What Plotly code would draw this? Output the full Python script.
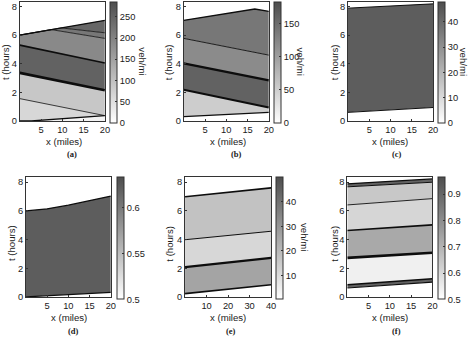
import plotly.graph_objects as go

# ---------------- data ----------------
T_MAX = 8.333

# panel (a)
a_xmax = 20
a_line_x = [[0, 20], [0, 9.7, 20], [0, 7.4, 20], [0, 20], [0, 20], [0, 20], [0, 2.7, 20]]
a_line_t = [[6.0, 7.03], [6.0, 6.5, 6.16], [6.0, 6.38, 5.77], [5.3, 4.05], [3.36, 2.14], [1.56, 0.37], [0, 0, 0.37]]
a_vals = [0, 245, 220, 190, 253, 90, 65, 20]
a_crange = [0, 286]
a_cticks = [0, 50, 100, 150, 200, 250]

# panel (b)
b_xmax = 20
b_line_x = [[0, 16.7, 20], [0, 20], [0, 20], [0, 20], [0, 20]]
b_line_t = [[7.03, 7.82, 7.66], [5.77, 4.6], [4.02, 2.83], [2.18, 0.94], [0.3, 0.6]]
b_vals = [0, 141, 120, 162, 52, 0]
b_crange = [0, 183]
b_cticks = [0, 50, 100, 150]

# panel (c)
c_xmax = 20
c_line_x = [[0, 20], [0, 20]]
c_line_t = [[7.88, 8.18], [0.6, 0.94]]
c_vals = [0, 44, 0]
c_crange = [0, 48]
c_cticks = [0, 10, 20, 30, 40]

# panel (d)
d_xmax = 20
d_line_x = [[0, 5, 10, 15, 20], [0, 20]]
d_line_t = [[6.0, 6.15, 6.4, 6.7, 7.04], [0.03, 0.33]]
d_vals = [0.5, 0.622, 0.5]
d_crange = [0.5, 0.633]
d_cticks = [0.5, 0.55, 0.6]

# panel (e)
e_xmax = 40
e_line_x = [[0, 40], [0, 40], [0, 40], [0, 40]]
e_line_t = [[6.99, 7.61], [4.0, 4.59], [2.1, 2.74], [0.25, 0.87]]
e_vals = [0.25, 17.3, 11.6, 25.7, 0.25]
e_crange = [0.25, 49.9]
e_cticks = [10, 20, 30, 40]

# panel (f)
f_xmax = 20
f_line_x = [[0, 20]] * 7
f_line_t = [[7.89, 8.23], [7.68, 8.0], [6.42, 6.86], [4.64, 5.03], [2.74, 3.09], [0.87, 1.28], [0.64, 1.05]]
f_vals = [0.5, 0.91, 0.645, 0.606, 0.725, 0.54, 0.91, 0.5]
f_crange = [0.5, 0.963]
f_cticks = [0.5, 0.6, 0.7, 0.8, 0.9]

# ---------------- styles / layout (pixels) ----------------
W, H = 474, 352
a_widths = [1.3, 0.8, 0.8, 1.6, 2.6, 0.8, 1.3]
b_widths = [1.3, 0.9, 2.2, 2.2, 1.3]
c_widths = [1.0, 1.0]
d_widths = [1.3, 1.3]
e_widths = [1.6, 1.0, 2.2, 1.6]
f_widths = [1.3, 1.0, 0.9, 1.6, 2.6, 1.6, 1.2]

panels = [
    dict(name="a", xmax=a_xmax, lx=a_line_x, lt=a_line_t, vals=a_vals, cr=a_crange, ct=a_cticks, lw=a_widths,
         xticks=[5, 10, 15, 20], box=(20, 106, 1.7, 122.7), cb=(111, 119), cbl="veh/mi", cblx=144.5,
         xt=(65, 144), yt=(5, 63), lab=(73, 156)),
    dict(name="b", xmax=b_xmax, lx=b_line_x, lt=b_line_t, vals=b_vals, cr=b_crange, ct=b_cticks, lw=b_widths,
         xticks=[5, 10, 15, 20], box=(185.7, 271.7, 1.7, 122.7), cb=(276.5, 284.3), cbl="veh/mi", cblx=304,
         xt=(230.5, 144), yt=(170, 63), lab=(239.5, 156)),
    dict(name="c", xmax=c_xmax, lx=c_line_x, lt=c_line_t, vals=c_vals, cr=c_crange, ct=c_cticks, lw=c_widths,
         xticks=[5, 10, 15, 20], box=(351.7, 437.7, 1.7, 122.7), cb=(442.5, 450.3), cbl="veh/mi", cblx=468.5,
         xt=(394, 144), yt=(337.7, 63), lab=(401, 156)),
    dict(name="d", xmax=d_xmax, lx=d_line_x, lt=d_line_t, vals=d_vals, cr=d_crange, ct=d_cticks, lw=d_widths,
         xticks=[5, 10, 15, 20], box=(26.2, 112, 180, 301.5), cb=(118.3, 126), cbl=None, cblx=None,
         xt=(69.5, 321.7), yt=(11.7, 247), lab=(74, 335.3)),
    dict(name="e", xmax=e_xmax, lx=e_line_x, lt=e_line_t, vals=e_vals, cr=e_crange, ct=e_cticks, lw=e_widths,
         xticks=[10, 20, 30, 40], box=(187, 274, 180, 301.5), cb=(279.3, 287), cbl="veh/mi", cblx=307.5,
         xt=(230.5, 321.7), yt=(171, 247), lab=(233, 335.3)),
    dict(name="f", xmax=f_xmax, lx=f_line_x, lt=f_line_t, vals=f_vals, cr=f_crange, ct=f_cticks, lw=f_widths,
         xticks=[5, 10, 15, 20], box=(351, 437, 180, 301.5), cb=(443, 450.7), cbl=None, cblx=None,
         xt=(394.3, 321.7), yt=(337.7, 247), lab=(401, 335.3)),
]

DARK = 78
colorscale = [[0, "rgb(255,255,255)"], [1, f"rgb({DARK},{DARK},{DARK})"]]
FONT = "Liberation Sans, Arial, sans-serif"
TXT = "#1a1a1a"
TICK = 9.3
TITLE = 9.6


def gray(v, lo, hi):
    f = (v - lo) / (hi - lo)
    f = max(0.0, min(1.0, f))
    g = round(255 - (255 - DARK) * f)
    return f"rgb({g},{g},{g})"


def fmt(v):
    return f"{v:g}"


fig = go.Figure()
layout = dict(width=W, height=H, margin=dict(l=0, r=0, t=0, b=0), showlegend=False,
              paper_bgcolor="white", plot_bgcolor="white", annotations=[],
              font=dict(family=FONT, size=TICK, color=TXT))

for i, p in enumerate(panels):
    k = "" if i == 0 else str(i + 1)
    xa, ya = "x" + k, "y" + k
    xmax = p["xmax"]
    lo, hi = p["cr"]
    bounds = [([0, xmax], [T_MAX, T_MAX])] + list(zip(p["lx"], p["lt"])) + [([0, xmax], [0, 0])]
    for j, v in enumerate(p["vals"]):
        ux, ut = bounds[j]
        bx, bt = bounds[j + 1]
        px = list(ux) + list(bx)[::-1]
        pt = list(ut) + list(bt)[::-1]
        fig.add_trace(go.Scatter(x=px, y=pt, xaxis=xa, yaxis=ya, mode="lines", fill="toself",
                                 fillcolor=gray(v, lo, hi), line=dict(width=0, color=gray(v, lo, hi)),
                                 hoverinfo="skip"))
    for (lx, lt), w in zip(zip(p["lx"], p["lt"]), p["lw"]):
        fig.add_trace(go.Scatter(x=lx, y=lt, xaxis=xa, yaxis=ya, mode="lines",
                                 line=dict(width=w, color="#0d0d0d"), hoverinfo="skip"))
    x0, x1, top, bot = p["box"]
    cbl, cbr = p["cb"]
    fig.add_trace(go.Scatter(x=[xmax / 2], y=[4], xaxis=xa, yaxis=ya, mode="markers", hoverinfo="skip",
                             marker=dict(size=1, opacity=0, color=[lo], cmin=lo, cmax=hi,
                                         colorscale=colorscale, showscale=True,
                                         colorbar=dict(x=cbl / W, xanchor="left", xpad=0,
                                                       y=1 - top / H, yanchor="top", ypad=0,
                                                       len=bot - top, lenmode="pixels",
                                                       thickness=cbr - cbl - 1, thicknessmode="pixels",
                                                       outlinewidth=1, outlinecolor="#333",
                                                       tickvals=p["ct"], ticktext=[fmt(t) for t in p["ct"]],
                                                       ticks="inside", ticklen=2, tickcolor="#333",
                                                       tickfont=dict(size=TICK, family=FONT, color=TXT)))))
    layout["xaxis" + k] = dict(domain=[x0 / W, x1 / W], anchor=ya, range=[0, xmax],
                               tickvals=p["xticks"], ticks="inside", ticklen=2, tickcolor="#333",
                               showline=True, linecolor="#333", linewidth=1, mirror=True,
                               showgrid=False, zeroline=False, tickfont=dict(size=TICK))
    layout["yaxis" + k] = dict(domain=[1 - bot / H, 1 - top / H], anchor=xa, range=[0, T_MAX],
                               tickvals=[0, 2, 4, 6, 8], ticks="inside", ticklen=2, tickcolor="#333",
                               showline=True, linecolor="#333", linewidth=1, mirror=True,
                               showgrid=False, zeroline=False, tickfont=dict(size=TICK))
    ann = layout["annotations"]
    ann.append(dict(text="x (miles)", x=p["xt"][0] / W, y=1 - p["xt"][1] / H, xref="paper", yref="paper",
                    showarrow=False, xanchor="center", yanchor="middle", font=dict(size=TITLE)))
    ann.append(dict(text="t (hours)", x=p["yt"][0] / W, y=1 - p["yt"][1] / H, xref="paper", yref="paper",
                    showarrow=False, xanchor="center", yanchor="middle", textangle=-90, font=dict(size=TITLE)))
    ann.append(dict(text="<b>(" + p["name"] + ")</b>", x=p["lab"][0] / W, y=1 - p["lab"][1] / H,
                    xref="paper", yref="paper", showarrow=False, xanchor="center", yanchor="middle",
                    font=dict(size=8.5, family="Liberation Serif, Times New Roman, serif")))
    if p["cbl"]:
        ann.append(dict(text=p["cbl"], x=p["cblx"] / W, y=1 - ((top + bot) / 2) / H, xref="paper",
                        yref="paper", showarrow=False, xanchor="center", yanchor="middle",
                        textangle=90, font=dict(size=TITLE)))

fig.update_layout(**layout)
fig.write_html("out.html")
